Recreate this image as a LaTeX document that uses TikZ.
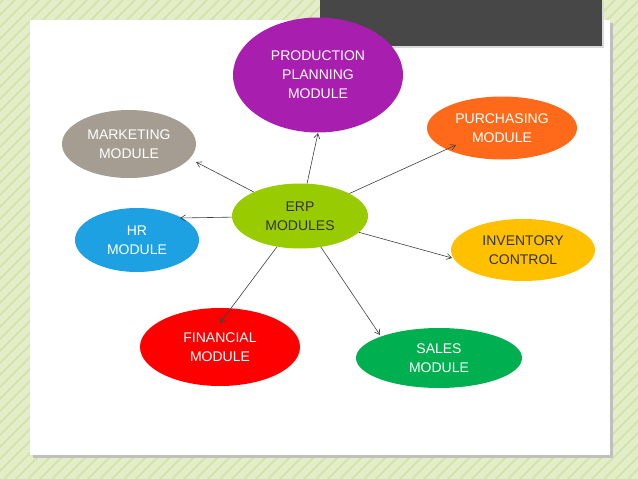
\documentclass[tikz,border=0pt]{standalone}
\usepackage{fontspec}
\setmainfont{Liberation Sans}
\usetikzlibrary{shapes.geometric,arrows.meta}
\definecolor{bggreen}{HTML}{E3EDC8}
\definecolor{stripe}{HTML}{D2E2A8}
\definecolor{cprod}{HTML}{A81FB0}
\definecolor{cmark}{HTML}{A59D92}
\definecolor{cpurch}{HTML}{FF6A1A}
\definecolor{cerp}{HTML}{99CC00}
\definecolor{chr}{HTML}{1DA1E2}
\definecolor{cinv}{HTML}{FFC000}
\definecolor{cfin}{HTML}{FF0000}
\definecolor{csales}{HTML}{00B050}
\tikzset{
  mod/.style={ellipse,minimum width=#1,align=center,font=\fontsize{14}{19}\selectfont,inner sep=0pt},
  conn/.style={draw=black!75,line width=0.6pt,-{Straight Barb[length=5pt,width=6pt]}},
}
\begin{document}
\begin{tikzpicture}[x=1pt,y=-1pt]
\useasboundingbox (0,0) rectangle (638,479);
\fill[bggreen] (0,0) rectangle (638,479);
\begin{scope}
\clip (0,0) rectangle (638,479);
\foreach \i in {-500,-488,...,700}{\draw[stripe,line width=1.5pt] (\i,479) -- (\i+479,0);}
\end{scope}
\fill[black!25] (33,23) rectangle (613,458);
\fill[white] (30,20) rectangle (610,455);
\fill[black!15] (322,2) rectangle (604,48);
\fill[black!72] (320,0) rectangle (602,46);
\node[mod=170pt,minimum height=115pt,fill=cprod,text=white] (prod) at (318,75) {PRODUCTION\\PLANNING\\MODULE};
\node[mod=134pt,minimum height=68pt,fill=cmark,text=white] (mark) at (129,144) {MARKETING\\MODULE};
\node[mod=150pt,minimum height=63pt,fill=cpurch,text=white] (purch) at (502,128) {PURCHASING\\MODULE};
\node[mod=136pt,minimum height=65pt,fill=cerp,text=black!80] (erp) at (300,216) {ERP\\MODULES};
\node[mod=124pt,minimum height=64pt,fill=chr,text=white] (hr) at (137,240) {HR\\MODULE};
\node[mod=144pt,minimum height=62pt,fill=cinv,text=black!80] (inv) at (523,250) {INVENTORY\\CONTROL};
\node[mod=160pt,minimum height=78pt,fill=cfin,text=white] (fin) at (220,347) {FINANCIAL\\MODULE};
\node[mod=166pt,minimum height=60pt,fill=csales,text=white] (sales) at (439,358) {SALES\\MODULE};
\coordinate (tp) at (318,133);
\coordinate (tm) at (196,162);
\coordinate (tu) at (456,145);
\coordinate (th) at (180,218);
\coordinate (ti) at (452,258);
\coordinate (tf) at (220,323);
\coordinate (ts) at (380,335);
\draw[conn] (erp) -- (tp);
\draw[conn] (erp) -- (tm);
\draw[conn] (erp) -- (tu);
\draw[conn] (erp) -- (th);
\draw[conn] (erp) -- (ti);
\draw[conn] (erp) -- (tf);
\draw[conn] (erp) -- (ts);
\end{tikzpicture}
\end{document}
